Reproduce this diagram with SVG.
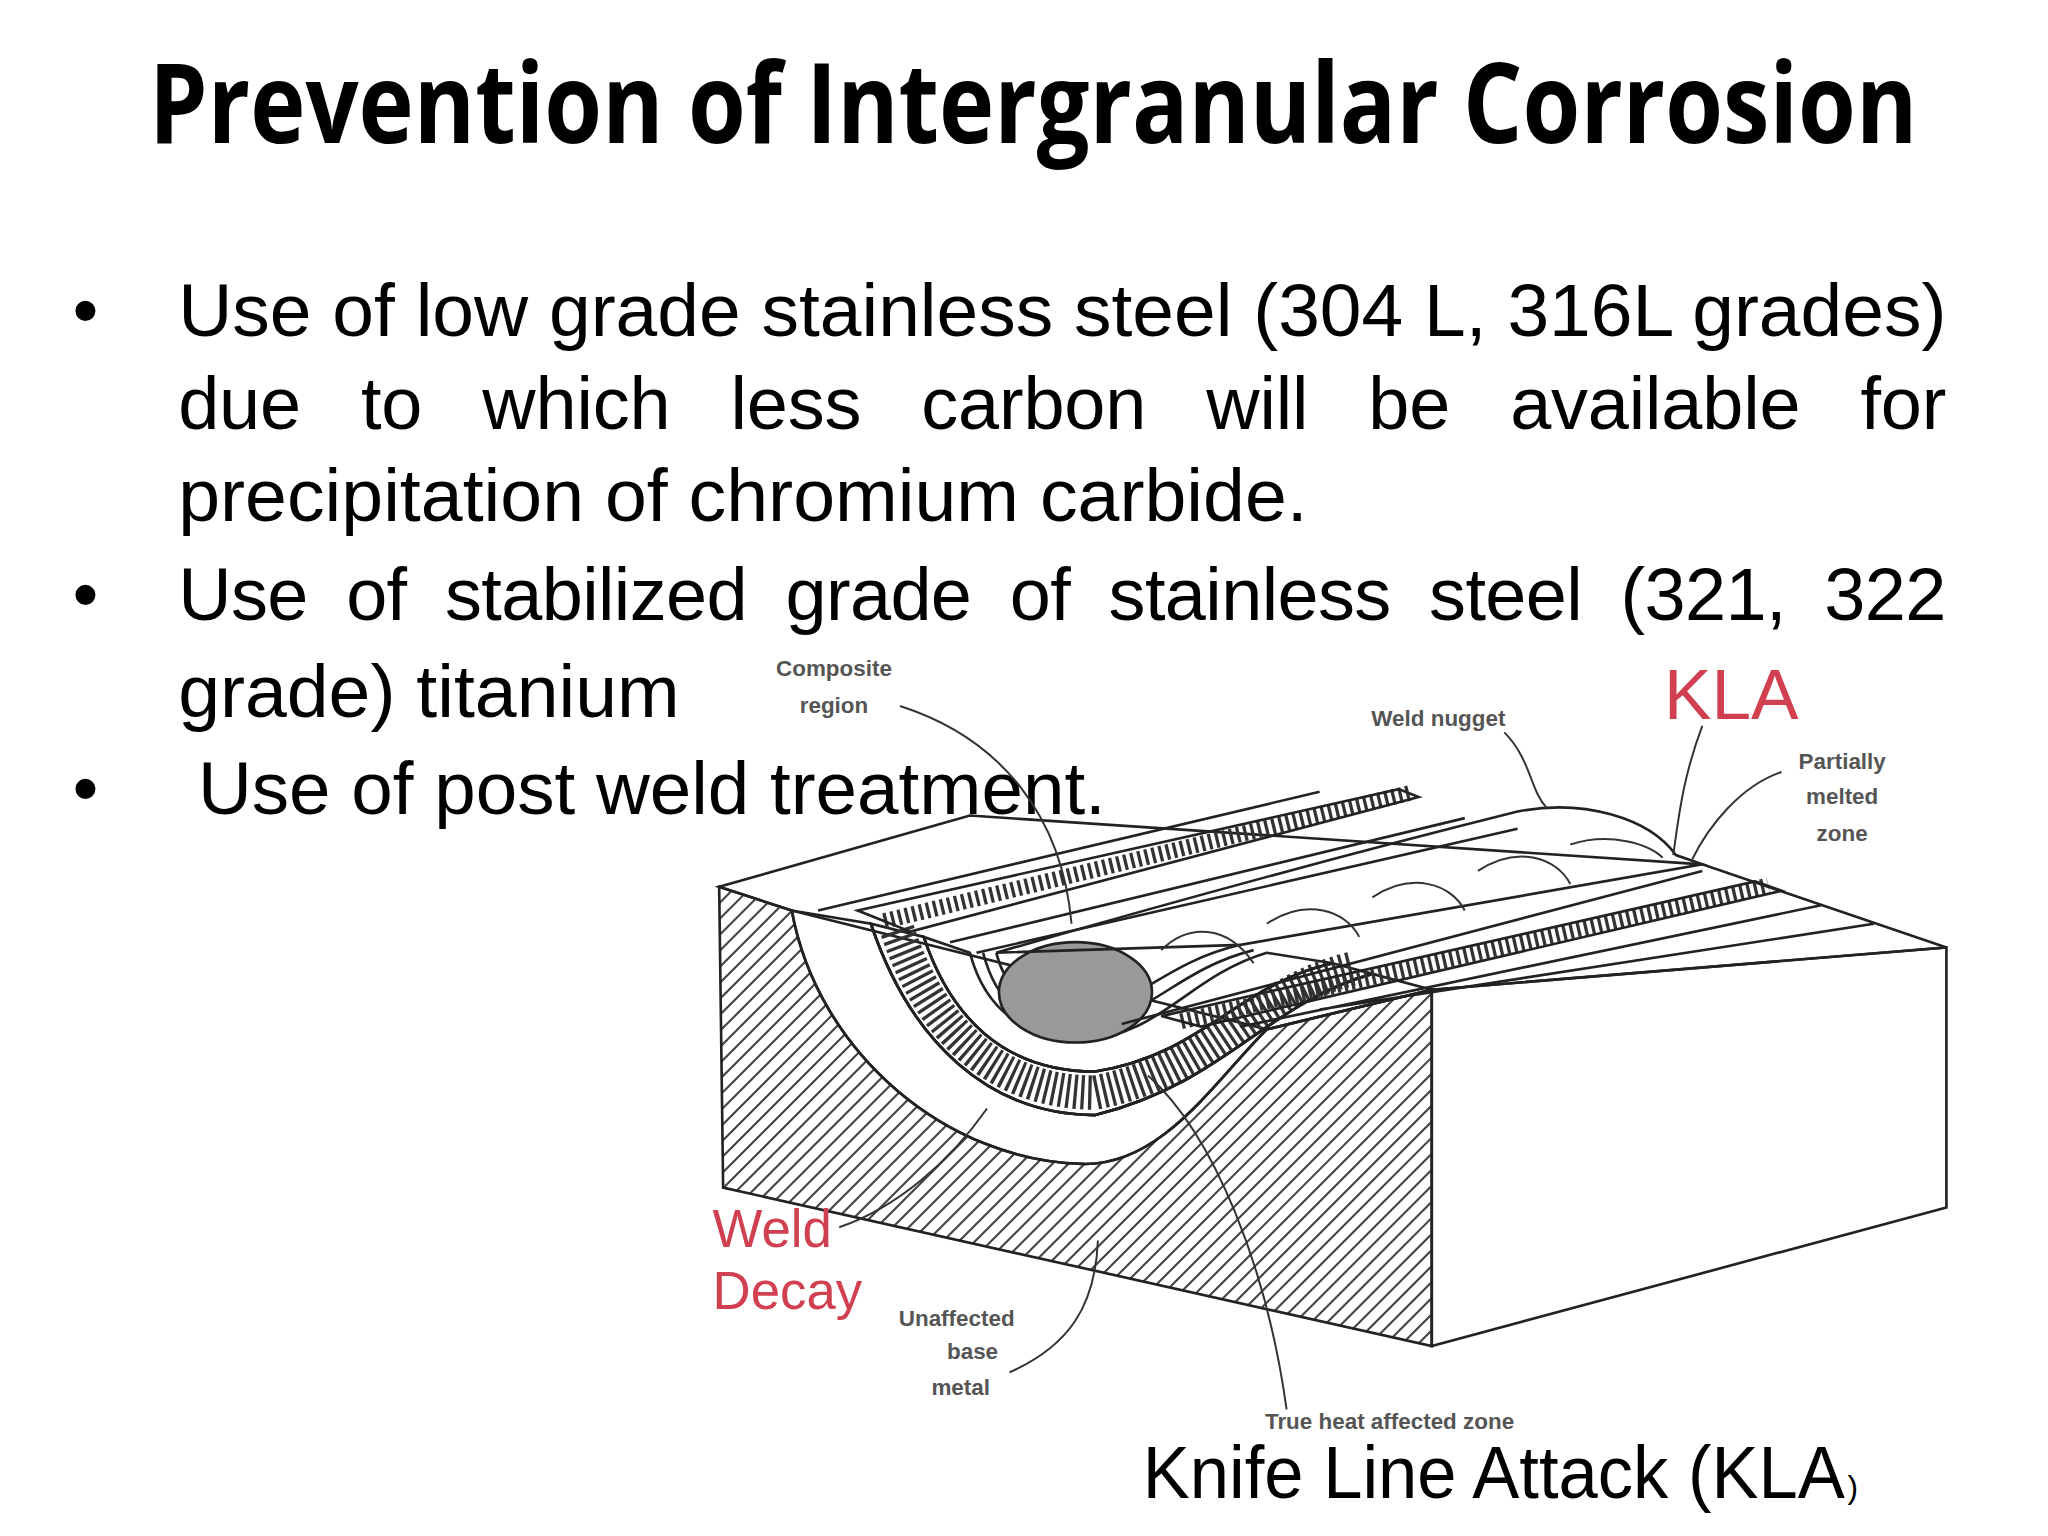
<svg xmlns="http://www.w3.org/2000/svg" width="2048" height="1536" viewBox="0 0 2048 1536">
<style>
.t{font-family:"Liberation Sans",Arial,sans-serif;font-size:56px;fill:#000}
.s{font-family:"Liberation Sans",Arial,sans-serif;font-size:17px;fill:#555;font-weight:bold}
.r{font-family:"Liberation Sans",Arial,sans-serif;fill:#d04050}
.ln{fill:none;stroke:#222;stroke-width:2}
.ld{fill:none;stroke:#333;stroke-width:1.5}
.dots{fill:none;stroke:#333;stroke-dasharray:2.5 3}
</style>
<defs>
<clipPath id="hc"><path d="M545,672 L548,900 L1085,1020 L1085,750 L960,780 C920,820 880,884 820,882 C720,880 620,800 600,690 Z"/></clipPath>
</defs>
<rect width="2048" height="1536" fill="#fff"/>
<g transform="scale(1.3196)">
<g id="title"><text x="783" y="108" text-anchor="middle" font-family="Open Sans, sans-serif" font-weight="bold" font-size="84" textLength="1340" lengthAdjust="spacingAndGlyphs">Prevention of Intergranular Corrosion</text></g>
<g id="bullets">
<text class="t" x="55" y="255">•</text><text class="t" x="55" y="470">•</text><text class="t" x="55" y="617">•</text>
<text class="t" x="135" y="255" textLength="1340" lengthAdjust="spacingAndGlyphs">Use of low grade stainless steel (304 L, 316L grades)</text>
<text class="t" x="135" y="325" textLength="1340" lengthAdjust="spacing" word-spacing="30">due to which less carbon  will be available for</text>
<text class="t" x="135" y="395" textLength="856" lengthAdjust="spacingAndGlyphs">precipitation of chromium carbide.</text>
<text class="t" x="135" y="470" textLength="1340" lengthAdjust="spacing" word-spacing="14">Use of stabilized grade of stainless steel (321, 322</text>
<text class="t" x="135" y="543" textLength="380" lengthAdjust="spacingAndGlyphs">grade) titanium</text>
<text class="t" x="150" y="617" textLength="688" lengthAdjust="spacingAndGlyphs">Use of post weld treatment.</text>
</g>
<g id="block">
<path class="ln" fill="#fff" d="M545,672 L735,618 L1290,655 L1475,718 L1085,750 L960,780 L600,690 Z"/>
<path class="ln" fill="#fff" d="M1085,750 L1475,718 L1475,915 L1085,1020 Z"/>
<g clip-path="url(#hc)"><line x1="400" y1="500" x2="1200" y2="1300" stroke="#444" stroke-width="1200" stroke-dasharray="1.6 7"/></g>
<path class="ln" d="M545,672 L548,900 L1085,1020 L1085,750 L960,780 C920,820 880,884 820,882 C720,880 620,800 600,690 Z"/>
<path class="ln" fill="#fff" d="M600,690 C620,800 720,880 820,882 C880,884 920,820 960,780 L1085,750 L1040,738 C960,760 930,820 830,845 C750,845 690,790 660,700 Z"/>
<path class="ln" fill="#fff" d="M660,700 C690,790 750,845 830,845 C930,820 960,760 1040,738 L1010,730 C940,745 910,800 830,812 C760,812 720,770 700,710 Z"/>
<path class="dots" stroke-width="26" d="M680,705 C705,780 755,828 830,828 C920,810 950,752 1025,734"/>
<path class="ln" d="M660,700 C690,790 750,845 830,845 C930,820 960,760 1040,738 M700,710 C720,770 760,812 830,812 C910,800 940,745 1010,730"/>
<path class="ln" fill="#fff" d="M700,710 C720,770 760,812 830,812 C910,800 940,745 1010,730 L960,722 C900,740 880,785 820,788 C770,786 745,760 735,722 Z"/>
<path class="ln" d="M745,722 C755,760 775,776 815,778 C870,774 890,735 950,720"/>
<path class="ln" d="M755,722 C762,752 785,766 815,768 C860,765 880,730 940,716"/>
<ellipse cx="815" cy="752" rx="58" ry="38" fill="#999" stroke="#222" stroke-width="2"/>
<path class="dots" stroke-width="12" d="M670,698 L1068,601"/>
<path class="ln" d="M650,690 L1060,598 L1075,604 L690,706 Z"/>
<path class="ln" d="M620,690 L1000,600 M720,714 L1110,620 M740,722 L1150,628"/>
<path class="dots" stroke-width="12" d="M895,774 L1340,671"/>
<path class="ln" d="M880,770 L1330,668 L1350,675 L910,778 Z"/>
<path class="ln" d="M850,776 L1290,660 M940,778 L1380,686 M1000,765 L1420,700"/>
<path class="ln" fill="#fff" d="M755,722 C900,680 1050,640 1150,615 C1200,605 1250,620 1270,648 L1290,655 L940,716 Z"/>
<path class="ld" d="M880,720 C900,700 930,700 950,730 M960,700 C990,680 1020,690 1030,710 M1040,680 C1070,660 1100,670 1110,690 M1120,660 C1150,640 1180,650 1190,670 M1190,640 C1220,630 1250,640 1260,650"/>
</g>
<g id="connectors">
<path class="ld" d="M682,535 C760,560 805,620 812,700"/>
<path class="ld" d="M1140,555 C1160,575 1160,600 1172,612"/>
<path class="ld" d="M1290,550 C1275,590 1272,620 1268,648"/>
<path class="ld" d="M1350,585 C1320,595 1295,625 1282,652"/>
<path class="ld" d="M636,930 C680,915 720,880 748,840"/>
<path class="ld" d="M765,1040 C810,1020 830,990 832,940"/>
<path class="ld" d="M975,1068 C960,960 920,860 870,815"/>
</g>
<g id="labels">
<text class="s" x="632" y="512" text-anchor="middle">Composite</text>
<text class="s" x="632" y="540" text-anchor="middle">region</text>
<text class="s" x="1090" y="550" text-anchor="middle">Weld nugget</text>
<text class="r" x="1312" y="545" text-anchor="middle" font-size="54">KLA</text>
<text class="s" x="1396" y="583" text-anchor="middle">Partially</text>
<text class="s" x="1396" y="609" text-anchor="middle">melted</text>
<text class="s" x="1396" y="637" text-anchor="middle">zone</text>
<text class="r" x="540" y="945" font-size="40">Weld</text>
<text class="r" x="540" y="992" font-size="40">Decay</text>
<text class="s" x="725" y="1005" text-anchor="middle">Unaffected</text>
<text class="s" x="737" y="1030" text-anchor="middle">base</text>
<text class="s" x="728" y="1057" text-anchor="middle">metal</text>
<text class="s" x="1053" y="1083" text-anchor="middle">True heat affected zone</text>
<text class="t" x="866" y="1135" textLength="532" lengthAdjust="spacingAndGlyphs">Knife Line Attack (KLA</text>
<text class="t" x="1400" y="1135" style="font-size:24px">)</text>
</g>
</g>
</svg>
